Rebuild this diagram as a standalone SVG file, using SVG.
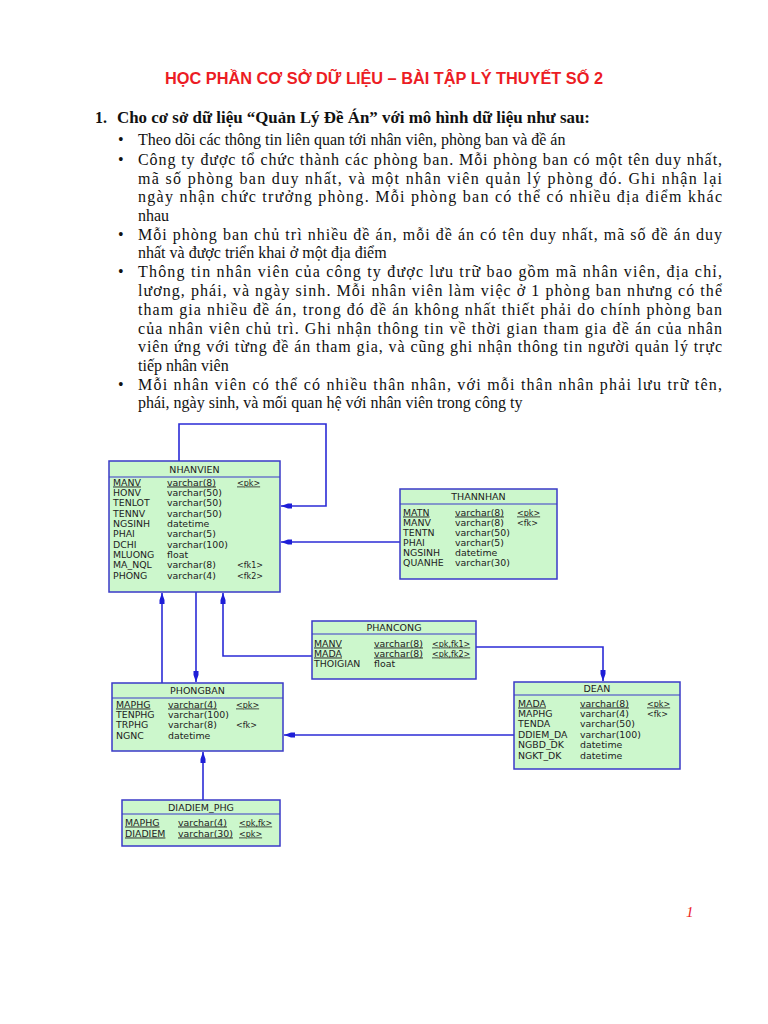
<svg xmlns="http://www.w3.org/2000/svg" width="768" height="1024" viewBox="0 0 768 1024">
<defs>
<style>
.title{font-family:"Liberation Sans",Arial,sans-serif;font-weight:bold;font-size:16px;fill:#ec1c24}
.body{font-family:"Liberation Serif","Times New Roman",serif;font-size:16px;fill:#111}
.bold{font-weight:bold}
.pg{font-family:"Liberation Serif",serif;font-style:italic;font-size:15px;fill:#ec1c24}
.box{fill:#ccf7cc;stroke:#3a3ac8;stroke-width:1.5}
.sep{stroke:#3a3ac8;stroke-width:1.2}
.hd{font-family:"DejaVu Sans","Liberation Sans",sans-serif;font-size:9.5px;fill:#222;text-anchor:middle}
.f{font-family:"DejaVu Sans","Liberation Sans",sans-serif;font-size:9.4px;fill:#222}
.k{font-size:8px}
.u{text-decoration:underline}
.conn{fill:none;stroke:#2b2bd6;stroke-width:1.6}
</style>
<marker id="ah" markerUnits="userSpaceOnUse" markerWidth="12" markerHeight="8" refX="11" refY="4" orient="auto">
<path d="M0,1.5 L4,1.5 L11,4 L4,6.5 L0,6.5 Z" fill="#1e1ed8"/>
</marker>
</defs>
<rect width="768" height="1024" fill="#fff"/>

<text class="title" x="384" y="84" text-anchor="middle" textLength="438" lengthAdjust="spacingAndGlyphs">HỌC PHẦN CƠ SỞ DỮ LIỆU – BÀI TẬP LÝ THUYẾT SỐ 2</text>

<g id="text">
<text class="body bold" x="95" y="123">1.</text>
<text class="body bold" x="117" y="123" textLength="473" lengthAdjust="spacingAndGlyphs">Cho cơ sở dữ liệu “Quản Lý Đề Án” với mô hình dữ liệu như sau:</text>
<text class="body" x="118" y="145">•</text>
<text class="body" x="138" y="145">Theo dõi các thông tin liên quan tới nhân viên, phòng ban và đề án</text>
<text class="body" x="118" y="165">•</text>
<text class="body" x="138" y="165" textLength="584">Công ty được tổ chức thành các phòng ban. Mỗi phòng ban có một tên duy nhất,</text>
<text class="body" x="138" y="184" textLength="584">mã số phòng ban duy nhất, và một nhân viên quản lý phòng đó. Ghi nhận lại</text>
<text class="body" x="138" y="202" textLength="584">ngày nhận chức trưởng phòng. Mỗi phòng ban có thể có nhiều địa điểm khác</text>
<text class="body" x="138" y="221">nhau</text>
<text class="body" x="118" y="240">•</text>
<text class="body" x="138" y="240" textLength="584">Mỗi phòng ban chủ trì nhiều đề án, mỗi đề án có tên duy nhất, mã số đề án duy</text>
<text class="body" x="138" y="258">nhất và được triển khai ở một địa điểm</text>
<text class="body" x="118" y="277">•</text>
<text class="body" x="138" y="277" textLength="584">Thông tin nhân viên của công ty được lưu trữ bao gồm mã nhân viên, địa chỉ,</text>
<text class="body" x="138" y="296" textLength="584">lương, phái, và ngày sinh. Mỗi nhân viên làm việc ở 1 phòng ban nhưng có thể</text>
<text class="body" x="138" y="315" textLength="584">tham gia nhiều đề án, trong đó đề án không nhất thiết phải do chính phòng ban</text>
<text class="body" x="138" y="334" textLength="584">của nhân viên chủ trì. Ghi nhận thông tin về thời gian tham gia đề án của nhân</text>
<text class="body" x="138" y="352" textLength="584">viên ứng với từng đề án tham gia, và cũng ghi nhận thông tin người quản lý trực</text>
<text class="body" x="138" y="371">tiếp nhân viên</text>
<text class="body" x="118" y="390">•</text>
<text class="body" x="138" y="390" textLength="584">Mỗi nhân viên có thể có nhiều thân nhân, với mỗi thân nhân phải lưu trữ tên,</text>
<text class="body" x="138" y="408">phái, ngày sinh, và mối quan hệ với nhân viên trong công ty</text>
</g>

<g id="connectors">
<path class="conn" d="M179,461 V424 H326 V506 H281" marker-end="url(#ah)"/>
<path class="conn" d="M400,542 H281" marker-end="url(#ah)"/>
<path class="conn" d="M312,656 H223 V593" marker-end="url(#ah)"/>
<path class="conn" d="M476,647 H603 V681" marker-end="url(#ah)"/>
<path class="conn" d="M162,683 V593" marker-end="url(#ah)"/>
<path class="conn" d="M196,592 V682" marker-end="url(#ah)"/>
<path class="conn" d="M514,735 H284" marker-end="url(#ah)"/>
<path class="conn" d="M203,800 V752" marker-end="url(#ah)"/>
</g>

<g id="NHANVIEN">
<rect class="box" x="109" y="461" width="171" height="131"/>
<line class="sep" x1="109" y1="477" x2="280" y2="477"/>
<text class="hd" x="194.5" y="472.5">NHANVIEN</text>
<g class="f">
<text class="u" x="113" y="485.5">MANV</text><text class="u" x="167" y="485.5">varchar(8)</text><text class="u k" x="237" y="485.5">&lt;pk&gt;</text>
<text x="113" y="495.8">HONV</text><text x="167" y="495.8">varchar(50)</text>
<text x="113" y="506.2">TENLOT</text><text x="167" y="506.2">varchar(50)</text>
<text x="113" y="516.5">TENNV</text><text x="167" y="516.5">varchar(50)</text>
<text x="113" y="526.8">NGSINH</text><text x="167" y="526.8">datetime</text>
<text x="113" y="537.2">PHAI</text><text x="167" y="537.2">varchar(5)</text>
<text x="113" y="547.5">DCHI</text><text x="167" y="547.5">varchar(100)</text>
<text x="113" y="557.8">MLUONG</text><text x="167" y="557.8">float</text>
<text x="113" y="568.2">MA_NQL</text><text x="167" y="568.2">varchar(8)</text><text class="k" x="237" y="568.2">&lt;fk1&gt;</text>
<text x="113" y="578.5">PHONG</text><text x="167" y="578.5">varchar(4)</text><text class="k" x="237" y="578.5">&lt;fk2&gt;</text>
</g>
</g>

<g id="THANNHAN">
<rect class="box" x="400" y="489" width="157" height="90"/>
<line class="sep" x1="400" y1="504" x2="557" y2="504"/>
<text class="hd" x="478.5" y="500">THANNHAN</text>
<g class="f">
<text class="u" x="403" y="515.5">MATN</text><text class="u" x="455" y="515.5">varchar(8)</text><text class="u k" x="517" y="515.5">&lt;pk&gt;</text>
<text x="403" y="525.5">MANV</text><text x="455" y="525.5">varchar(8)</text><text class="k" x="517" y="525.5">&lt;fk&gt;</text>
<text x="403" y="535.5">TENTN</text><text x="455" y="535.5">varchar(50)</text>
<text x="403" y="545.5">PHAI</text><text x="455" y="545.5">varchar(5)</text>
<text x="403" y="555.5">NGSINH</text><text x="455" y="555.5">datetime</text>
<text x="403" y="565.5">QUANHE</text><text x="455" y="565.5">varchar(30)</text>
</g>
</g>

<g id="PHANCONG">
<rect class="box" x="312" y="621" width="164" height="58"/>
<line class="sep" x1="312" y1="634" x2="476" y2="634"/>
<text class="hd" x="394" y="631">PHANCONG</text>
<g class="f">
<text class="u" x="314" y="646.5">MANV</text><text class="u" x="374" y="646.5">varchar(8)</text><text class="u k" x="432" y="646.5">&lt;pk,fk1&gt;</text>
<text class="u" x="314" y="656.5">MADA</text><text class="u" x="374" y="656.5">varchar(8)</text><text class="u k" x="432" y="656.5">&lt;pk,fk2&gt;</text>
<text x="314" y="666.5">THOIGIAN</text><text x="374" y="666.5">float</text>
</g>
</g>

<g id="PHONGBAN">
<rect class="box" x="112" y="683" width="171" height="68"/>
<line class="sep" x1="112" y1="698" x2="283" y2="698"/>
<text class="hd" x="197.5" y="694">PHONGBAN</text>
<g class="f">
<text class="u" x="116" y="707.5">MAPHG</text><text class="u" x="168" y="707.5">varchar(4)</text><text class="u k" x="236" y="707.5">&lt;pk&gt;</text>
<text x="116" y="718">TENPHG</text><text x="168" y="718">varchar(100)</text>
<text x="116" y="728">TRPHG</text><text x="168" y="728">varchar(8)</text><text class="k" x="236" y="728">&lt;fk&gt;</text>
<text x="116" y="738.5">NGNC</text><text x="168" y="738.5">datetime</text>
</g>
</g>

<g id="DEAN">
<rect class="box" x="514" y="682" width="166" height="87"/>
<line class="sep" x1="514" y1="695" x2="680" y2="695"/>
<text class="hd" x="597" y="692">DEAN</text>
<g class="f">
<text class="u" x="518" y="706.5">MADA</text><text class="u" x="580" y="706.5">varchar(8)</text><text class="u k" x="647" y="706.5">&lt;pk&gt;</text>
<text x="518" y="716.9">MAPHG</text><text x="580" y="716.9">varchar(4)</text><text class="k" x="647" y="716.9">&lt;fk&gt;</text>
<text x="518" y="727.3">TENDA</text><text x="580" y="727.3">varchar(50)</text>
<text x="518" y="737.7">DDIEM_DA</text><text x="580" y="737.7">varchar(100)</text>
<text x="518" y="748.1">NGBD_DK</text><text x="580" y="748.1">datetime</text>
<text x="518" y="758.5">NGKT_DK</text><text x="580" y="758.5">datetime</text>
</g>
</g>

<g id="DIADIEM_PHG">
<rect class="box" x="122" y="800" width="158" height="46"/>
<line class="sep" x1="122" y1="814" x2="280" y2="814"/>
<text class="hd" x="201" y="810.5">DIADIEM_PHG</text>
<g class="f">
<text class="u" x="125" y="825.5">MAPHG</text><text class="u" x="178" y="825.5">varchar(4)</text><text class="u k" x="239" y="825.5">&lt;pk,fk&gt;</text>
<text class="u" x="125" y="836.5">DIADIEM</text><text class="u" x="178" y="836.5">varchar(30)</text><text class="u k" x="239" y="836.5">&lt;pk&gt;</text>
</g>
</g>

<text class="pg" x="686" y="917">1</text>
</svg>
